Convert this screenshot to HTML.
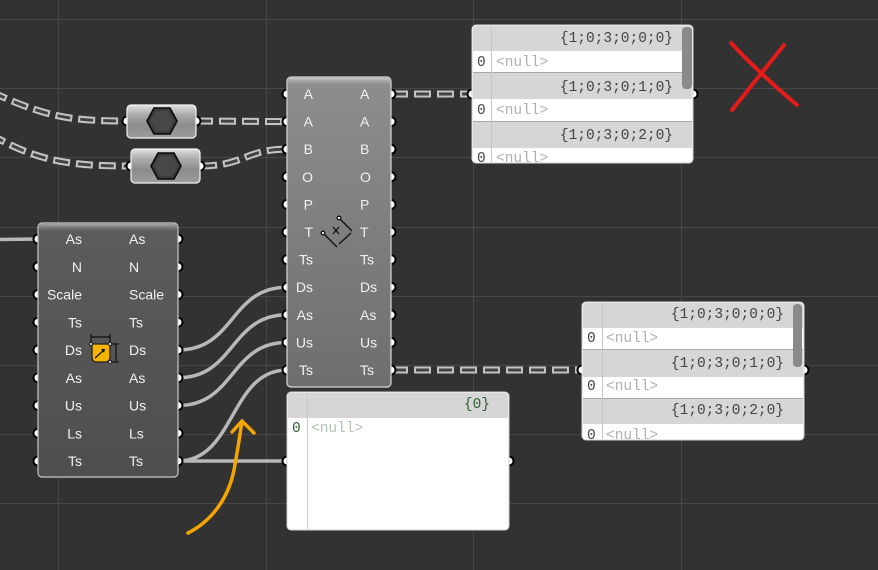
<!DOCTYPE html>
<html><head><meta charset="utf-8"><style>
html,body{margin:0;padding:0;background:#323232;}
svg{display:block;}
.lbl{font-family:"Liberation Sans",sans-serif;font-size:14px;fill:#f2f2f2;}
.mono{font-family:"Liberation Mono",monospace;font-size:14.5px;}
</style></head><body>
<svg width="878" height="570" viewBox="0 0 878 570" xmlns="http://www.w3.org/2000/svg">
<defs>
<linearGradient id="gMid" x1="0" y1="0" x2="0" y2="1">
<stop offset="0" stop-color="#8e8e8e"/><stop offset="1" stop-color="#6e6e6e"/></linearGradient>
<linearGradient id="gLeft" x1="0" y1="0" x2="0" y2="1">
<stop offset="0" stop-color="#5c5c5c"/><stop offset="1" stop-color="#4e4e4e"/></linearGradient>
<linearGradient id="gTop" x1="0" y1="0" x2="0" y2="1">
<stop offset="0" stop-color="#c8c8c8"/><stop offset="1" stop-color="#8a8a8a" stop-opacity="0"/></linearGradient>
<linearGradient id="gHex" x1="0" y1="0" x2="0" y2="1">
<stop offset="0" stop-color="#e0e0e0"/><stop offset="0.3" stop-color="#ababab"/><stop offset="0.6" stop-color="#8c8c8c"/><stop offset="1" stop-color="#9c9c9c"/></linearGradient>
<clipPath id="cp1"><rect x="473" y="26" width="219" height="136" rx="3"/></clipPath>
<clipPath id="cp2"><rect x="583" y="303" width="220" height="136" rx="3"/></clipPath>
</defs>

<!-- grid -->
<g stroke="#474747" stroke-width="1">
<line x1="58.5" y1="0" x2="58.5" y2="570"/><line x1="266.5" y1="0" x2="266.5" y2="570"/>
<line x1="473.5" y1="0" x2="473.5" y2="570"/><line x1="681.5" y1="0" x2="681.5" y2="570"/>
<line x1="0" y1="19.5" x2="878" y2="19.5"/><line x1="0" y1="88.5" x2="878" y2="88.5"/>
<line x1="0" y1="157.5" x2="878" y2="157.5"/><line x1="0" y1="227.5" x2="878" y2="227.5"/>
<line x1="0" y1="296.5" x2="878" y2="296.5"/><line x1="0" y1="365.5" x2="878" y2="365.5"/>
<line x1="0" y1="434.5" x2="878" y2="434.5"/><line x1="0" y1="503.5" x2="878" y2="503.5"/>
</g>

<!-- dashed (chain) wires -->
<g fill="none">
<g stroke="#c4c4c4" stroke-width="7" stroke-dasharray="17 6">
<path d="M-30 82 C40 115,60 121,127 121"/>
<path d="M-30 122 C30 160,60 166,131 166"/>
<path d="M196 121 L287 121.6"/>
<path d="M200 166 C245 166,245 149.2,287 149.2"/>
<path d="M391 94 L472 94"/>
<path d="M391 370 L582 370"/>
</g>
<g stroke="#424242" stroke-width="3" stroke-dasharray="13 10" stroke-dashoffset="-2">
<path d="M-30 82 C40 115,60 121,127 121"/>
<path d="M-30 122 C30 160,60 166,131 166"/>
<path d="M196 121 L287 121.6"/>
<path d="M200 166 C245 166,245 149.2,287 149.2"/>
<path d="M391 94 L472 94"/>
<path d="M391 370 L582 370"/>
</g>
</g>

<!-- solid wires -->
<g fill="none" stroke="#b8b8b8" stroke-width="3.5">
<path d="M0 239.5 L38 239"/>
<path d="M178 350 C235 350,230 287.2,287 287.2"/>
<path d="M178 377.75 C235 377.75,230 314.8,287 314.8"/>
<path d="M178 405.5 C235 405.5,230 342.4,287 342.4"/>
<path d="M178 461 C235 461,230 370,287 370"/>
<path d="M178 461 L287 461"/>
</g>

<!-- ports -->
<g fill="#fff" stroke="#000" stroke-width="2">
<circle cx="127" cy="121" r="4.5"/><circle cx="196" cy="121" r="4.5"/>
<circle cx="131" cy="166" r="4.5"/><circle cx="200" cy="166" r="4.5"/>
<circle cx="287" cy="94" r="4.5"/><circle cx="287" cy="121.6" r="4.5"/><circle cx="287" cy="149.2" r="4.5"/>
<circle cx="287" cy="176.8" r="4.5"/><circle cx="287" cy="204.4" r="4.5"/><circle cx="287" cy="232" r="4.5"/>
<circle cx="287" cy="259.6" r="4.5"/><circle cx="287" cy="287.2" r="4.5"/><circle cx="287" cy="314.8" r="4.5"/>
<circle cx="287" cy="342.4" r="4.5"/><circle cx="287" cy="370" r="4.5"/>
<circle cx="391" cy="94" r="4.5"/><circle cx="391" cy="121.6" r="4.5"/><circle cx="391" cy="149.2" r="4.5"/>
<circle cx="391" cy="176.8" r="4.5"/><circle cx="391" cy="204.4" r="4.5"/><circle cx="391" cy="232" r="4.5"/>
<circle cx="391" cy="259.6" r="4.5"/><circle cx="391" cy="287.2" r="4.5"/><circle cx="391" cy="314.8" r="4.5"/>
<circle cx="391" cy="342.4" r="4.5"/><circle cx="391" cy="370" r="4.5"/>
<circle cx="38" cy="239" r="4.5"/><circle cx="38" cy="266.75" r="4.5"/><circle cx="38" cy="294.5" r="4.5"/>
<circle cx="38" cy="322.25" r="4.5"/><circle cx="38" cy="350" r="4.5"/><circle cx="38" cy="377.75" r="4.5"/>
<circle cx="38" cy="405.5" r="4.5"/><circle cx="38" cy="433.25" r="4.5"/><circle cx="38" cy="461" r="4.5"/>
<circle cx="178" cy="239" r="4.5"/><circle cx="178" cy="266.75" r="4.5"/><circle cx="178" cy="294.5" r="4.5"/>
<circle cx="178" cy="322.25" r="4.5"/><circle cx="178" cy="350" r="4.5"/><circle cx="178" cy="377.75" r="4.5"/>
<circle cx="178" cy="405.5" r="4.5"/><circle cx="178" cy="433.25" r="4.5"/><circle cx="178" cy="461" r="4.5"/>
<circle cx="472" cy="94" r="4.5"/><circle cx="693" cy="94" r="4.5"/>
<circle cx="582" cy="370" r="4.5"/><circle cx="804" cy="370" r="4.5"/>
<circle cx="287" cy="461" r="4.5"/><circle cx="509" cy="461" r="4.5"/>
</g>

<!-- hex components -->
<g>
<rect x="127" y="105" width="69" height="33" rx="4" fill="url(#gHex)" stroke="#f4f4f4" stroke-width="1.2"/>
<polygon points="147,121 154,108 170,108 177,121 170,134 154,134" fill="#3a3a3a" stroke="#0a0a0a" stroke-width="1.6"/>
<polygon points="150,121 156,111 168,111 174,121 168,131 156,131" fill="#474747"/>
<rect x="131" y="149" width="69" height="34" rx="4" fill="url(#gHex)" stroke="#f4f4f4" stroke-width="1.2"/>
<polygon points="151,166 158,153 174,153 181,166 174,179 158,179" fill="#3a3a3a" stroke="#0a0a0a" stroke-width="1.6"/>
<polygon points="154,166 160,156 172,156 178,166 172,176 160,176" fill="#474747"/>
</g>

<!-- middle component -->
<rect x="287" y="77" width="104" height="310" rx="4" fill="url(#gMid)" stroke="#d8d8d8" stroke-width="1.2"/>
<rect x="288" y="78" width="102" height="9" rx="3" fill="url(#gTop)"/>
<g class="lbl" text-anchor="end">
<text x="313" y="99">A</text><text x="313" y="126.6">A</text><text x="313" y="154.2">B</text>
<text x="313" y="181.8">O</text><text x="313" y="209.4">P</text><text x="313" y="237">T</text>
<text x="313" y="264.6">Ts</text><text x="313" y="292.2">Ds</text><text x="313" y="319.8">As</text>
<text x="313" y="347.4">Us</text><text x="313" y="375">Ts</text>
</g>
<g class="lbl">
<text x="360" y="99">A</text><text x="360" y="126.6">A</text><text x="360" y="154.2">B</text>
<text x="360" y="181.8">O</text><text x="360" y="209.4">P</text><text x="360" y="237">T</text>
<text x="360" y="264.6">Ts</text><text x="360" y="292.2">Ds</text><text x="360" y="319.8">As</text>
<text x="360" y="347.4">Us</text><text x="360" y="375">Ts</text>
</g>
<g fill="none" stroke="#111" stroke-width="1.3">
<line x1="323" y1="233" x2="337" y2="247"/>
<line x1="339" y1="218" x2="352" y2="231"/>
<line x1="339" y1="244" x2="351" y2="233"/>
<line x1="333" y1="227" x2="339" y2="234"/>
<line x1="339" y1="227" x2="333" y2="234"/>
<circle cx="323" cy="233" r="1.8" fill="#fff"/>
<circle cx="339" cy="218" r="1.8" fill="#fff"/>
</g>

<!-- left component -->
<rect x="38" y="223" width="140" height="254" rx="4" fill="url(#gLeft)" stroke="#c8c8c8" stroke-width="1.2"/>
<rect x="39" y="224" width="138" height="8" rx="3" fill="url(#gTop)" opacity="0.7"/>
<g class="lbl" text-anchor="end">
<text x="82" y="244">As</text><text x="82" y="271.75">N</text><text x="82" y="299.5">Scale</text>
<text x="82" y="327.25">Ts</text><text x="82" y="355">Ds</text><text x="82" y="382.75">As</text>
<text x="82" y="410.5">Us</text><text x="82" y="438.25">Ls</text><text x="82" y="466">Ts</text>
</g>
<g class="lbl">
<text x="129" y="244">As</text><text x="129" y="271.75">N</text><text x="129" y="299.5">Scale</text>
<text x="129" y="327.25">Ts</text><text x="129" y="355">Ds</text><text x="129" y="382.75">As</text>
<text x="129" y="410.5">Us</text><text x="129" y="438.25">Ls</text><text x="129" y="466">Ts</text>
</g>
<g>
<path d="M92 344 L110 344 L110 357 Q110 362 105 362 L97 362 Q92 362 92 357 Z" fill="#f6b400" stroke="#222" stroke-width="1.3"/>
<g stroke="#111" stroke-width="1.2" fill="none">
<line x1="91" y1="337" x2="110" y2="337"/><line x1="91" y1="334" x2="91" y2="344"/><line x1="110" y1="334" x2="110" y2="344"/>
<line x1="116" y1="344" x2="116" y2="362"/><line x1="112" y1="344" x2="119" y2="344"/><line x1="112" y1="362" x2="119" y2="362"/>
<line x1="95" y1="358" x2="104" y2="350"/>
</g>
<circle cx="91" cy="344" r="1.5" fill="#fff" stroke="#222"/>
<circle cx="110" cy="344" r="1.5" fill="#fff" stroke="#222"/>
<circle cx="110" cy="362" r="1.5" fill="#fff" stroke="#222"/>
<path d="M101 349 L105 349 L104 353 Z" fill="#111"/>
</g>

<!-- top-right panel -->
<rect x="472" y="25" width="221" height="138" rx="4" fill="#fff" stroke="#d0d0d0" stroke-width="1"/>
<g clip-path="url(#cp1)">
<rect x="473" y="26" width="219" height="25" fill="#d6d6d6"/>
<rect x="473" y="73" width="219" height="26" fill="#d6d6d6"/>
<rect x="473" y="122" width="219" height="26" fill="#d6d6d6"/>
<line x1="473" y1="72.5" x2="692" y2="72.5" stroke="#a8a8a8"/>
<line x1="473" y1="121.5" x2="692" y2="121.5" stroke="#a8a8a8"/>
<line x1="491.5" y1="26" x2="491.5" y2="162" stroke="#c4c4c4"/>
<rect x="682" y="27" width="10" height="62" rx="4" fill="#8a8a8a"/>
<g class="mono" fill="#444" text-anchor="end">
<text x="673" y="42">{1;0;3;0;0;0}</text>
<text x="673" y="91">{1;0;3;0;1;0}</text>
<text x="673" y="139">{1;0;3;0;2;0}</text>
</g>
<g class="mono" fill="#444"><text x="477" y="66">0</text><text x="477" y="114">0</text><text x="477" y="162">0</text></g>
<g class="mono" fill="#b0b0b0"><text x="496" y="66">&lt;null&gt;</text><text x="496" y="114">&lt;null&gt;</text><text x="496" y="162">&lt;null&gt;</text></g>
</g>

<!-- right panel -->
<rect x="582" y="302" width="222" height="138" rx="4" fill="#fff" stroke="#d0d0d0" stroke-width="1"/>
<g clip-path="url(#cp2)">
<rect x="583" y="303" width="220" height="25" fill="#d6d6d6"/>
<rect x="583" y="350" width="220" height="27" fill="#d6d6d6"/>
<rect x="583" y="399" width="220" height="25" fill="#d6d6d6"/>
<line x1="583" y1="349.5" x2="803" y2="349.5" stroke="#a8a8a8"/>
<line x1="583" y1="398.5" x2="803" y2="398.5" stroke="#a8a8a8"/>
<line x1="602.5" y1="303" x2="602.5" y2="439" stroke="#c4c4c4"/>
<rect x="793" y="304" width="9" height="63" rx="4" fill="#8a8a8a"/>
<g class="mono" fill="#444" text-anchor="end">
<text x="784" y="318">{1;0;3;0;0;0}</text>
<text x="784" y="367">{1;0;3;0;1;0}</text>
<text x="784" y="414">{1;0;3;0;2;0}</text>
</g>
<g class="mono" fill="#444"><text x="587" y="342">0</text><text x="587" y="390">0</text><text x="587" y="439">0</text></g>
<g class="mono" fill="#b0b0b0"><text x="606" y="342">&lt;null&gt;</text><text x="606" y="390">&lt;null&gt;</text><text x="606" y="439">&lt;null&gt;</text></g>
</g>

<!-- bottom panel -->
<rect x="287" y="392" width="222" height="138" rx="4" fill="#fff" stroke="#d0d0d0" stroke-width="1"/>
<rect x="288" y="393" width="220" height="25" fill="#d6d6d6"/>
<line x1="307.5" y1="393" x2="307.5" y2="529" stroke="#c8c8c8"/>
<text class="mono" x="490" y="408" fill="#2f5e2f" text-anchor="end">{0}</text>
<text class="mono" x="292" y="432" fill="#2f5e2f">0</text>
<text class="mono" x="311" y="432" fill="#b2c2b2">&lt;null&gt;</text>

<!-- red X -->
<g fill="none" stroke="#e31b1b" stroke-width="4" stroke-linecap="round">
<path d="M731 43 Q762 76 797 105"/>
<path d="M784 45 Q756 80 732 110"/>
</g>

<!-- orange arrow -->
<g fill="none" stroke="#f5a500" stroke-width="3.5" stroke-linecap="round" stroke-linejoin="round">
<path d="M188 533 C210 522,228 500,234 470 C238 448,240 435,242 421"/>
<path d="M232 432 L242 421 L254 433"/>
</g>
</svg>
</body></html>
